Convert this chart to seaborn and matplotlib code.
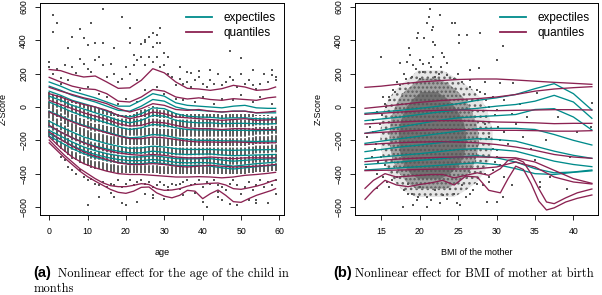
import numpy as np
import pandas as pd
import seaborn as sns
import matplotlib.pyplot as plt
from matplotlib.lines import Line2D

TEAL = '#008B8B'
MAROON = '#8B2252'
PTS = '#555555'

# ---------------- panel (a): age of the child ----------------
age_knots = [0, 3, 6, 9, 12, 15, 18, 21, 24, 27, 30, 33, 36, 39, 42, 45, 48, 51, 54, 57, 59]
age_fine = [0, 2, 4, 6, 8, 10, 12, 14, 16, 18, 20, 22, 24, 26, 28, 30, 32, 34, 36, 38, 40,
            42, 44, 46, 48, 50, 52, 54, 56, 58, 59]

a_quant = [
    [225, 218, 195, 180, 186, 150, 112, 115, 160, 230, 205, 150, 112, 108, 100, 110, 130, 120, 100, 105, 120],
    [178, 150, 125, 110, 105, 80, 35, 30, 60, 105, 95, 60, 48, 55, 45, 40, 50, 45, 40, 55, 60],
    [118, 95, 75, 55, 40, 20, -10, -30, -10, 20, 10, -15, -20, -15, -25, -30, -25, -25, -35, -30, -25],
    [80, 60, 35, 15, 0, -20, -50, -70, -55, -30, -40, -60, -65, -70, -75, -80, -75, -70, -80, -78, -75],
    [40, 15, -10, -35, -55, -75, -100, -115, -110, -90, -95, -110, -125, -130, -130, -135, -130, -130, -135, -135, -135],
    [-30, -60, -90, -115, -135, -155, -175, -190, -190, -180, -185, -195, -205, -210, -210, -212, -210, -212, -215, -215, -215],
    [-110, -150, -185, -215, -240, -260, -275, -285, -290, -285, -290, -300, -305, -305, -300, -305, -310, -305, -305, -305, -305],
    [-150, -195, -235, -270, -295, -315, -335, -345, -345, -340, -345, -355, -360, -355, -350, -355, -360, -358, -355, -350, -345],
    [-180, -245, -300, -340, -365, -385, -400, -405, -405, -410, -415, -420, -420, -418, -420, -425, -420, -410, -405, -398, -392],
]
a_quant_fine = [
    [-198, -245, -290, -330, -370, -400, -430, -455, -472, -478, -478, -470, -460, -465, -490, -500, -498, -490,
     -475, -465, -462, -458, -456, -468, -490, -494, -485, -475, -462, -445, -438],
    [-215, -260, -305, -345, -385, -418, -445, -470, -495, -512, -518, -505, -482, -480, -515, -535, -545, -530,
     -500, -505, -550, -520, -498, -530, -568, -572, -550, -530, -515, -500, -490],
]
a_expect = [
    [150, 125, 95, 75, 55, 30, 5, 5, 40, 80, 65, 25, 10, 5, 0, -5, 5, 10, -5, -8, -8],
    [125, 100, 70, 50, 30, 5, -20, -25, 5, 45, 35, 0, -15, -20, -25, -30, -25, -25, -35, -35, -35],
    [95, 70, 40, 20, 0, -25, -50, -60, -40, -5, -10, -40, -55, -60, -62, -68, -65, -65, -70, -72, -70],
    [65, 40, 10, -12, -35, -55, -80, -95, -80, -50, -55, -80, -90, -95, -95, -100, -98, -98, -100, -102, -100],
    [30, 0, -30, -55, -75, -95, -120, -135, -125, -105, -110, -125, -135, -138, -138, -140, -140, -140, -142, -140, -140],
    [-25, -55, -85, -110, -130, -150, -170, -185, -180, -165, -170, -185, -195, -200, -200, -203, -203, -205, -207, -205, -205],
    [-85, -120, -150, -180, -200, -220, -235, -248, -245, -235, -240, -250, -255, -255, -255, -258, -260, -258, -257, -256, -255],
    [-115, -150, -185, -212, -235, -252, -265, -275, -275, -265, -272, -282, -285, -283, -282, -288, -292, -290, -288, -286, -285],
    [-140, -175, -210, -240, -262, -280, -292, -300, -300, -292, -300, -310, -312, -310, -310, -318, -325, -320, -315, -312, -310],
    [-160, -195, -232, -262, -285, -302, -315, -322, -322, -315, -322, -332, -335, -333, -335, -345, -355, -348, -340, -335, -330],
    [-175, -212, -250, -280, -303, -320, -332, -340, -340, -333, -340, -350, -352, -350, -355, -365, -372, -365, -358, -352, -350],
]

# dense columns of observations per month of age
col_age = list(range(60))
col_hi = [90, 85, 75, 65, 55, 45, 40, 30, 25, 15,
          10, 5, 0, -5, -10, -15, -25, -35, -40, -45,
          -45, -45, -40, -30, -20, -10, 0, 5, 0, -5,
          -10, -20, -30, -35, -40, -40, -40, -40, -40, -40,
          -40, -40, -40, -40, -40, -45, -40, -40, -40, -40,
          -40, -40, -40, -40, -45, -45, -45, -45, -45, -45]
col_lo = [-180, -200, -230, -250, -270, -290, -310, -320, -335, -345,
          -355, -365, -370, -375, -380, -385, -390, -392, -395, -395,
          -395, -395, -395, -395, -395, -395, -395, -395, -395, -400,
          -400, -400, -400, -400, -400, -400, -400, -400, -400, -400,
          -400, -400, -400, -400, -400, -400, -400, -400, -400, -400,
          -400, -400, -395, -395, -390, -390, -390, -390, -385, -385]

# scattered observations outside the columns
a_pts_age = [1, 2, 1, 6, 5, 8, 9, 10, 11, 12, 12, 14, 14, 17, 19, 21, 21, 22, 23, 24, 25, 25, 26, 27, 27, 28,
             28, 29, 29, 30, 31, 34, 36, 37, 39, 42, 47, 50, 53, 58, 59,
             0, 0, 1, 2, 3, 4, 6, 7, 8, 9, 10, 11, 13, 14, 15, 16, 17, 18, 19, 20, 21, 22, 23, 24, 25, 26, 27,
             28, 29, 30, 31, 32, 33, 34, 35, 36, 37, 38, 39, 40, 41, 42, 43, 44, 45, 46, 47, 48, 49, 50, 51,
             52, 53, 54, 55, 56, 57, 58, 59,
             5, 10, 15, 20, 25, 30, 35, 40, 45, 50, 55, 3, 8, 13, 18, 23, 28, 33, 38, 43, 48, 53, 58,
             3, 4, 5, 6, 7, 8, 9, 10, 11, 12, 13, 14, 15, 16, 17, 18, 19, 20, 21, 22, 23, 24, 25, 26, 27, 28,
             29, 30, 31, 32, 33, 34, 35, 36, 37, 38, 39, 40, 41, 42, 43, 44, 45, 46, 47, 48, 49, 50, 51, 52,
             53, 54, 55, 56, 57, 58, 59,
             10, 13, 16, 19, 20, 23, 27, 27, 31, 34, 38, 40, 41, 44, 44, 47, 49, 54, 54, 57, 59, 17, 25, 35,
             45, 52, 30]
a_pts_z = [554, 506, 452, 420, 352, 466, 412, 372, 506, 382, 282, 588, 382, 352, 538, 472, 382, 312, 282, 376,
           392, 402, 422, 442, 362, 432, 382, 472, 386, 322, 302, 242, 212, 202, 218, 222, 338, 292, 222, 222, 182,
           270, 240, 200, 230, 175, 250, 240, 205, 290, 260, 230, 210, 300, 250, 180, 260, 200, 150, 170, 240,
           200, 250, 160, 300, 250, 300, 270, 300, 240, 250, 200, 180, 130, 170, 140, 150, 120, 160, 180, 140,
           120, 160, 140, 200, 130, 150, 180, 160, 120, 200, 140, 160, 130, 110, 140, 200, 150, 190, 160,
           160, 120, 60, 50, 100, 80, 40, 60, 50, 70, 60, 140, 100, 80, 20, 30, 120, 50, 30, 20, 40, 30, 20,
           -300, -320, -360, -380, -400, -380, -420, -440, -430, -460, -470, -450, -480, -460, -470, -440, -480,
           -460, -440, -470, -450, -440, -460, -450, -480, -470, -450, -470, -480, -460, -470, -460, -450, -440,
           -470, -460, -440, -480, -450, -460, -440, -470, -480, -500, -460, -440, -470, -520, -480, -450, -500,
           -470, -440, -480, -450, -470, -440,
           -588, -538, -518, -578, -588, -568, -548, -528, -498, -494, -518, -568, -598, -508, -538, -582, -588,
           -558, -574, -578, -522, -540, -520, -530, -560, -560, -555]

# ---------------- panel (b): BMI of the mother ----------------
bmi_knots = [12.9, 15, 17.5, 20, 22.5, 25, 27.5, 30, 32.5, 35, 37.5, 40, 42.4]
bmi_fine = [12.9, 14, 15.5, 17, 18.5, 20, 21.5, 23, 24.5, 26, 27.5, 29, 30.5, 31.5, 32.5, 33.5, 34.5, 35.5,
            36.5, 37.5, 39, 40.5, 42.4]

b_quant = [
    [118, 125, 138, 150, 158, 165, 168, 168, 162, 155, 148, 142, 136],
    [-8, 2, 15, 28, 38, 45, 50, 60, 75, 95, 108, 116, 122],
    [-44, -38, -30, -24, -20, -18, -20, -22, -20, -18, -16, -16, -18],
    [-102, -96, -90, -85, -82, -82, -85, -90, -92, -95, -100, -98, -98],
    [-158, -152, -146, -140, -136, -135, -138, -140, -140, -142, -145, -145, -142],
    [-226, -220, -214, -210, -208, -210, -215, -225, -240, -260, -285, -300, -308],
    [-328, -320, -312, -306, -302, -300, -300, -302, -305, -330, -380, -430, -458],
    [-382, -380, -378, -375, -372, -372, -370, -360, -330, -360, -420, -450, -462],
]
b_quant_fine = [
    [-488, -440, -400, -420, -415, -410, -405, -405, -425, -410, -395, -410, -370, -320, -310, -330, -400, -490,
     -570, -580, -545, -515, -492],
    [-554, -500, -440, -468, -478, -465, -455, -440, -468, -415, -420, -500, -515, -430, -355, -375, -460, -565,
     -618, -605, -570, -548, -528],
]
b_expect = [
    [-38, -30, -20, -8, 5, 20, 40, 55, 75, 110, 140, 80, -18],
    [-82, -72, -60, -45, -30, -18, -8, 5, 15, 35, 70, 30, -68],
    [-158, -140, -120, -100, -80, -65, -58, -52, -45, -15, -10, -60, -138],
    [-218, -205, -190, -175, -160, -145, -130, -128, -128, -135, -165, -200, -228],
    [-268, -255, -240, -228, -215, -200, -190, -195, -205, -235, -265, -290, -308],
    [-310, -300, -290, -280, -268, -255, -250, -255, -265, -295, -325, -345, -358],
    [-345, -338, -330, -320, -312, -300, -292, -305, -330, -370, -395, -390, -378],
    [-378, -372, -365, -358, -350, -342, -335, -345, -370, -400, -405, -392, -383],
]

# extent of the point cloud (per Z-score level): sparse halo, medium ring, dense core
halo_z = [220, 180, 140, 100, 50, 0, -50, -100, -150, -200, -250, -300, -350, -400, -450, -500, -540]
halo_left = [19.8, 18.8, 17.8, 16.8, 16.0, 15.5, 15.2, 15.0, 14.9, 14.9, 15.0, 15.2, 15.5, 16.0, 16.8, 17.8, 19.5]
halo_right = [23.0, 24.5, 25.8, 27.0, 28.0, 28.6, 29.0, 29.3, 29.5, 29.5, 29.4, 29.2, 28.8, 28.3, 27.5, 26.0, 24.5]
ring_z = [170, 130, 90, 50, 0, -50, -100, -150, -200, -250, -300, -350, -400, -450, -490]
ring_left = [20.0, 19.0, 18.0, 17.3, 16.8, 16.4, 16.2, 16.1, 16.1, 16.2, 16.4, 16.8, 17.4, 18.3, 19.5]
ring_right = [22.5, 24.0, 25.0, 25.8, 26.5, 27.0, 27.4, 27.6, 27.7, 27.6, 27.4, 27.0, 26.3, 25.2, 23.5]
core_z = [90, 50, 0, -50, -100, -150, -200, -250, -300, -350, -400, -430]
core_left = [20.2, 19.2, 18.3, 17.8, 17.5, 17.3, 17.3, 17.4, 17.6, 18.0, 18.8, 19.8]
core_right = [22.3, 23.6, 24.6, 25.3, 25.8, 26.0, 26.1, 26.0, 25.7, 25.1, 24.0, 22.8]

b_pts_bmi = [21.4, 21.2, 22.7, 20.9, 24.2, 24.6, 21.8, 21.6, 25.1, 26.2, 27.9, 25.1, 19.8, 19.6, 20.6, 21.8, 22.0,
             22.9, 18.6, 18.8, 15.0, 17.5, 18.4, 20.1, 21.2, 23.6, 26.5, 27.7, 30.1, 30.9, 30.5, 32.2, 15.3, 35.3,
             42.4, 42.3,
             19.5, 20.5, 21.5, 22.5, 23.5, 24.5, 19.0, 18.0, 20.0, 22.0, 25.5, 26.5, 27.5, 28.5, 29.5, 31.0, 30.0,
             32.0, 33.0, 34.0, 28.5, 17.0, 16.5, 16.0, 15.5, 14.5, 14.0, 13.5, 13.2, 14.2, 15.0, 13.0, 14.5, 15.5,
             28.5, 29.0, 29.5, 30.0, 31.0, 31.5, 32.5, 33.5, 34.5, 30.5, 31.0, 32.0, 28.5, 29.0, 35.0, 36.5, 38.0,
             39.5, 40.5, 37.0,
             17.9, 19.2, 19.6, 20.9, 22.7, 24.9, 25.3, 28.7, 30.1, 30.9, 35.7, 35.7, 39.2, 14.4, 16.4, 18.0, 19.0,
             20.0, 21.0, 22.0, 23.0, 24.0, 25.5, 26.5, 27.5, 18.5, 17.0, 16.0,
             14.0, 14.3, 13.8, 14.6, 15.2, 15.8, 14.8, 15.1, 15.6, 16.2, 16.8, 17.5, 18.2,
             29.8, 30.2, 30.5, 30.0, 29.8, 29.5, 29.0, 28.2, 27.0, 29.0, 28.6, 27.8, 26.5, 25.0,
             18.5, 19.8, 21.5, 23.5, 24.5, 26.0, 20.5, 22.8, 21.8, 19.2, 23.2]
b_pts_z = [586, 542, 552, 502, 506, 506, 482, 462, 432, 432, 442, 382, 442, 412, 412, 392, 372, 322, 352, 312, 298,
           262, 272, 282, 262, 262, 222, 232, 282, 366, 142, 142, 62, 82, 22, -118,
           230, 210, 240, 200, 190, 170, 180, 200, 170, 180, 150, 120, 100, 80, 60, 40, -20, -40, 20, -60, 150, 150,
           100, 60, 20, -30, -80, -120, -180, -250, -300, -360, -400, -350,
           -100, -180, -250, -300, -150, -220, -100, -180, -250, -350, -420, -470, -400, -450, -320, -200, -60, -300,
           -150, -420,
           -598, -588, -558, -598, -578, -578, -588, -568, -568, -538, -448, -478, -494, -488, -438, -500, -520, -480,
           -540, -500, -530, -490, -470, -520, -460, -460, -420, -480,
           -150, -220, -300, -330, -420, -450, -100, -50, 0, 40, 90, 130, 170,
           -50, -120, -200, -260, -330, -380, -420, -470, -500, 0, 40, 90, 160, 200,
           -520, -540, -560, -550, -520, -540, 260, 240, 300, 250, 300]


def curves_frame(xs, rows, kind, start):
    recs = []
    for i, row in enumerate(rows):
        for x, y in zip(xs, row):
            recs.append((x, y, kind, start + i))
    return pd.DataFrame(recs, columns=['x', 'z', 'type', 'curve'])


df_a = pd.concat([curves_frame(age_knots, a_expect, 'expectiles', 0),
                  curves_frame(age_knots, a_quant, 'quantiles', 100),
                  curves_frame(age_fine, a_quant_fine, 'quantiles', 200)])
df_b = pd.concat([curves_frame(bmi_knots, b_expect, 'expectiles', 0),
                  curves_frame(bmi_knots, b_quant, 'quantiles', 100),
                  curves_frame(bmi_fine, b_quant_fine, 'quantiles', 200)])
pal = {'expectiles': TEAL, 'quantiles': MAROON}

plt.rcParams['font.family'] = ['Liberation Sans', 'DejaVu Sans']
plt.rcParams['axes.linewidth'] = 0.7
plt.rcParams['hatch.linewidth'] = 1.1
fig = plt.figure(figsize=(6.02, 2.95), dpi=100)
ax_a = fig.add_axes([0.0664, 0.2712, 0.4054, 0.7186])
ax_b = fig.add_axes([0.5897, 0.2712, 0.4037, 0.7186])

# panel a
ax_a.vlines(col_age, col_lo, col_hi, color='#5c5c5c', lw=1.4, linestyles=(0, (4.0, 0.8)), zorder=1)
sns.scatterplot(x=a_pts_age, y=a_pts_z, ax=ax_a, color=PTS, s=2.5, marker='s', linewidth=0, zorder=2)
sns.lineplot(data=df_a, x='x', y='z', hue='type', units='curve', estimator=None, sort=False,
             palette=pal, hue_order=['expectiles', 'quantiles'], lw=0.95, ax=ax_a, legend=False, zorder=3)

# panel b
ax_b.fill_betweenx(halo_z, halo_left, halo_right, facecolor='#e6e6e6', edgecolor='#666666', hatch='...',
                   lw=0, zorder=1)
ax_b.fill_betweenx(ring_z, ring_left, ring_right, facecolor='#a2a2a2', edgecolor='#5e5e5e', hatch='....',
                   lw=0, zorder=1)
ax_b.fill_betweenx(core_z, core_left, core_right, facecolor='#727272', edgecolor='#5a5a5a', hatch='....',
                   lw=0, zorder=1)
sns.scatterplot(x=b_pts_bmi, y=b_pts_z, ax=ax_b, color=PTS, s=2.5, marker='s', linewidth=0, zorder=2)
sns.lineplot(data=df_b, x='x', y='z', hue='type', units='curve', estimator=None, sort=False,
             palette=pal, hue_order=['expectiles', 'quantiles'], lw=0.95, ax=ax_b, legend=False, zorder=3)

handles = [Line2D([], [], color=TEAL, lw=1.3), Line2D([], [], color=MAROON, lw=1.3)]
for ax, xlim, xticks, xlabel in [(ax_a, (-2.4, 61.2), range(0, 61, 10), 'age'),
                                  (ax_b, (11.6, 43.2), range(15, 41, 5), 'BMI of the mother')]:
    ax.set_xlim(*xlim)
    ax.set_ylim(-648, 624)
    ax.set_xticks(list(xticks))
    ax.set_yticks(range(-600, 601, 200))
    ax.set_xlabel(xlabel, fontsize=6.5, labelpad=9)
    ax.set_ylabel('Z-Score', fontsize=6.5, labelpad=8)
    ax.tick_params(labelsize=6.3, length=3.5, width=0.6, pad=5)
    for lab in ax.get_yticklabels():
        lab.set_rotation(90)
        lab.set_va('center')
    ax.legend(handles, ['expectiles', 'quantiles'], loc='upper right', frameon=False, fontsize=8.5,
              handlelength=2.2, labelspacing=0.3, borderaxespad=0.35, handletextpad=0.9)

fig.text(0.055, 0.06, '(a)', fontsize=10.5, fontweight='bold', va='baseline')
fig.text(0.096, 0.06, 'Nonlinear effect for the age of the child in', family='cmr10', fontsize=9.0,
         va='baseline')
fig.text(0.055, 0.01, 'months', family='cmr10', fontsize=9.0, va='baseline')
fig.text(0.553, 0.06, '(b)', fontsize=10.5, fontweight='bold', va='baseline')
fig.text(0.590, 0.06, 'Nonlinear effect for BMI of mother at birth', family='cmr10', fontsize=9.0,
         va='baseline')

fig.savefig('out.png', dpi=100)
